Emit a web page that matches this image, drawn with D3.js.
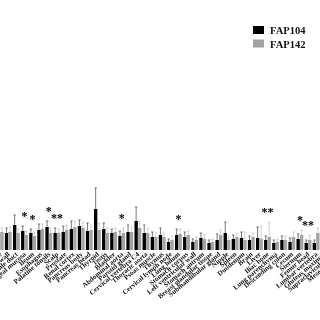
<!DOCTYPE html>
<html>
<head>
<meta charset="utf-8">
<script src="https://cdn.jsdelivr.net/npm/d3@7"></script>
<style>
    body { margin: 0; background: #fff; }
    #chart { width: 320px; height: 320px; overflow: hidden; }
    svg { filter: grayscale(1); }
    text { font-family: "Liberation Serif", "Times New Roman", serif; font-weight: bold; }
</style>
</head>
<body>
<div id="chart"></div>
<script>
// organs on the x axis (chart is cropped, first and last ones are cut off)
let organs = ["Heart muscle", "Vascular wall", "Bile duct", "Esophageal mucosa", "Ileum", "Esophagus",
    "Palatine tonsils", "Scalp", "Prostate", "Renal cortex", "Pancreas body", "Pancreas head", "Thyroid",
    "Testis", "Bladder", "Abdominal aorta", "Parotid gland", "Cervical vertebra C4", "Thoracic aorta",
    "Psoas muscle", "Thymus", "Cervical lymph node", "Lung hilum", "Stomach corpus", "Left ventricular wall",
    "Stomach antrum", "Breast glandular tissue", "Submandibular gland", "Nipple", "Spleen", "Duodenum",
    "Brain", "Liver", "Iliac bone", "Lung parenchyma", "Descending colon", "Cecum", "Sternum",
    "Femur head", "Lumbar vertebra", "Gluteus maximus", "Supraclavicular fat", "Mesenteric fat"];

let seriesNames = ["FAP104", "FAP142"];

// mean uptake (arbitrary units)
let fap104 = [3.4, 3.4, 5.0, 3.8, 3.4, 4.0, 4.6, 3.4, 3.6, 4.2, 4.8, 3.8, 8.2, 4.2, 3.4, 2.8, 3.6, 5.8,
    3.4, 2.6, 3.0, 1.6, 3.0, 2.6, 1.6, 2.4, 1.4, 2.0, 3.4, 2.2, 2.4, 2.0, 2.4, 2.0, 1.4, 2.0, 1.6, 2.2,
    1.4, 1.4, 2.0, 2.2, 2.0];
let fap142 = [3.6, 3.6, 3.4, 3.0, 2.8, 4.2, 3.4, 3.4, 4.0, 4.6, 4.4, 4.0, 4.0, 3.4, 3.6, 3.4, 3.6, 4.4,
    3.4, 2.6, 2.6, 2.0, 3.2, 3.0, 2.0, 2.2, 1.6, 3.0, 2.0, 2.6, 2.0, 2.6, 2.2, 2.6, 1.6, 2.0, 2.6, 3.0,
    2.0, 3.4, 2.4, 2.6, 2.2];
// standard deviation (upper whisker only)
let sd104 = [1.0, 1.0, 2.0, 1.0, 0.8, 1.2, 1.2, 1.0, 1.2, 1.6, 1.2, 1.6, 4.2, 1.2, 0.8, 1.0, 1.4, 2.8,
    1.6, 1.0, 1.4, 0.6, 1.2, 1.0, 0.6, 1.0, 0.6, 1.2, 2.2, 0.8, 1.2, 0.8, 2.2, 0.8, 0.6, 0.8, 0.8, 1.0,
    0.6, 0.6, 0.8, 0.8, 0.8];
let sd142 = [0.8, 1.0, 0.8, 0.8, 0.8, 1.0, 1.0, 0.8, 1.0, 1.2, 1.2, 1.0, 1.4, 1.0, 0.8, 1.0, 1.0, 1.2,
    1.0, 0.8, 0.8, 0.8, 1.0, 0.8, 0.6, 0.8, 0.6, 1.0, 0.8, 0.8, 1.6, 0.8, 2.6, 3.0, 0.6, 0.8, 1.0, 1.0,
    1.0, 1.0, 0.8, 0.8, 0.8];
// significance marks between the two tracers
let sigMarks = [
    {organ: "Esophageal mucosa", mark: "*"},
    {organ: "Ileum", mark: "*"},
    {organ: "Palatine tonsils", mark: "*"},
    {organ: "Scalp", mark: "**"},
    {organ: "Abdominal aorta", mark: "*"},
    {organ: "Lung hilum", mark: "*"},
    {organ: "Iliac bone", mark: "**"},
    {organ: "Sternum", mark: "*"},
    {organ: "Femur head", mark: "**"}
];

class uptakeVis {
    constructor(parentElement) {
        this.parentElement = parentElement;
        let vis = this;
        vis.width = 320;
        vis.height = 320;
        vis.baseline = 250;
        this.initVis();
    }

    initVis() {
        let vis = this;
        vis.svg = d3.select("#" + vis.parentElement)
            .append("svg")
            .attr("width", vis.width)
            .attr("height", vis.height);

        vis.data = organs.map((o, i) => ({
            organ: o,
            values: [
                {key: "FAP104", v: fap104[i], sd: sd104[i]},
                {key: "FAP142", v: fap142[i], sd: sd142[i]}
            ]
        }));

        // 8.1 px per organ, cropped on the left
        let step = 8.1;
        vis.x = d3.scaleBand()
            .domain(organs)
            .range([-3.85, -3.85 + step * organs.length])
            .paddingInner(0.12)
            .paddingOuter(0.06);

        vis.xSub = d3.scaleBand()
            .domain(seriesNames)
            .range([0, vis.x.bandwidth()])
            .padding(0.04);

        vis.y = d3.scaleLinear()
            .domain([0, 12])
            .range([vis.baseline, vis.baseline - 60]);

        vis.color = d3.scaleOrdinal()
            .domain(seriesNames)
            .range(["#000000", "#a3a3a3"]);

        let groups = vis.svg.selectAll(".organ")
            .data(vis.data)
            .enter()
            .append("g")
            .attr("class", "organ")
            .attr("transform", d => "translate(" + vis.x(d.organ) + ",0)");

        // error bars (upper half only)
        groups.selectAll(".err")
            .data(d => d.values)
            .enter()
            .append("line")
            .attr("x1", d => vis.xSub(d.key) + vis.xSub.bandwidth() / 2)
            .attr("x2", d => vis.xSub(d.key) + vis.xSub.bandwidth() / 2)
            .attr("y1", d => vis.y(d.v))
            .attr("y2", d => vis.y(d.v + d.sd))
            .attr("stroke", d => d.key == "FAP104" ? "#555" : "#c4c4c4")
            .attr("stroke-width", 0.8);

        groups.selectAll(".cap")
            .data(d => d.values)
            .enter()
            .append("line")
            .attr("x1", d => vis.xSub(d.key) + vis.xSub.bandwidth() / 2 - 1.2)
            .attr("x2", d => vis.xSub(d.key) + vis.xSub.bandwidth() / 2 + 1.2)
            .attr("y1", d => vis.y(d.v + d.sd))
            .attr("y2", d => vis.y(d.v + d.sd))
            .attr("stroke", d => d.key == "FAP104" ? "#555" : "#c4c4c4")
            .attr("stroke-width", 0.8);

        groups.selectAll("rect")
            .data(d => d.values)
            .enter()
            .append("rect")
            .attr("x", d => vis.xSub(d.key))
            .attr("y", d => vis.y(d.v))
            .attr("width", vis.xSub.bandwidth())
            .attr("height", d => vis.y(0) - vis.y(d.v))
            .attr("fill", d => vis.color(d.key));

        // significance stars + small bracket
        let sig = vis.svg.selectAll(".sig")
            .data(sigMarks)
            .enter()
            .append("g")
            .attr("class", "sig")
            .attr("transform", function(d) {
                let i = organs.indexOf(d.organ);
                let top = d3.max([fap104[i] + sd104[i], fap142[i] + sd142[i]]);
                return "translate(" + (vis.x(d.organ) + vis.x.bandwidth() / 2) + "," + (vis.y(top) - 9) + ")";
            });

        sig.append("line")
            .attr("x1", -2).attr("x2", 2)
            .attr("y1", 0).attr("y2", 0)
            .attr("stroke", "#bbb")
            .attr("stroke-width", 0.8);

        sig.append("text")
            .attr("text-anchor", "middle")
            .attr("y", 3)
            .style("font-size", "12px")
            .text(d => d.mark);

        // rotated organ labels
        vis.svg.selectAll(".xlabel")
            .data(organs)
            .enter()
            .append("text")
            .attr("class", "xlabel")
            .attr("text-anchor", "end")
            .attr("transform", d => "translate(" + (vis.x(d) + vis.x.bandwidth() / 2 + 2) + "," + (vis.baseline + 5) + ") rotate(-40)")
            .style("font-size", "7px")
            .attr("fill", "#111")
            .text(d => d);

        // legend
        let legend = vis.svg.selectAll(".legend")
            .data(seriesNames)
            .enter()
            .append("g")
            .attr("class", "legend")
            .attr("transform", (d, i) => "translate(253," + (26 + i * 13.5) + ")");

        legend.append("rect")
            .attr("width", 11)
            .attr("height", 8)
            .attr("fill", d => vis.color(d));

        legend.append("text")
            .attr("x", 17)
            .attr("y", 8)
            .style("font-size", "10.5px")
            .attr("fill", "#111")
            .text(d => d);
    }
}

new uptakeVis("chart");
</script>
</body>
</html>
